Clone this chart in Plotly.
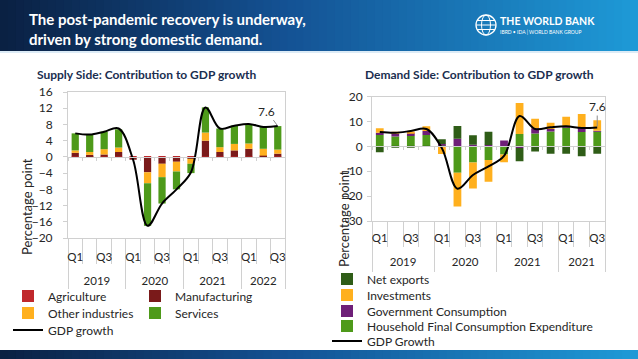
import plotly.graph_objects as go

W, H = 638, 359


def px(x):
    return x / W


def py(y):
    return 1 - y / H


# ---------------- data ----------------
categories = ["2019 Q1", "2019 Q2", "2019 Q3", "2019 Q4",
              "2020 Q1", "2020 Q2", "2020 Q3", "2020 Q4",
              "2021 Q1", "2021 Q2", "2021 Q3", "2021 Q4",
              "2022 Q1", "2022 Q2", "2022 Q3"]
quarter_tick_text = ["Q1", "Q3", "Q1", "Q3", "Q1", "Q3", "Q1", "Q3"]
years_supply = ["2019", "2020", "2021", "2022"]
years_demand = ["2019", "2020", "2021", "2021"]
year_sizes = [4, 4, 4, 3]

# Supply side (percentage points)
agriculture = [0.1, 0.1, 0.1, 0.1, -0.1, -0.1, 0.1, 0.1, 0.1, 0.1, 0.1, 0.1, 0.1, 0.1, 0.1]
manufacturing = [0.9, 0.4, 0.5, 1.1, -0.6, -3.7, -1.7, -1.2, -0.5, 3.9, 1.1, 1.5, 1.9, 0.2, 0.7]
other_industries = [0.6, 0.7, 1.3, 1.1, 0.0, -2.7, -3.3, -2.4, -1.2, 2.0, 1.2, 1.6, 1.3, 1.7, 1.0]
services = [4.2, 4.3, 4.3, 4.5, 0.0, -10.5, -6.5, -4.4, -2.3, 6.2, 4.6, 4.5, 4.8, 5.4, 5.8]
gdp_growth = [5.8, 5.5, 6.2, 7.0, -0.7, -17.0, -11.5, -8.0, -3.8, 12.2, 7.0, 7.7, 8.1, 7.4, 7.6]

# Demand side (percentage points)
household = [4.6, 4.0, 4.2, 4.6, 0.3, -10.6, -6.5, -5.5, -3.2, 5.0, 5.2, 6.0, 7.6, 5.8, 6.0]
government = [0.9, 1.3, 1.3, 1.6, 0.7, 3.1, 0.7, 0.6, 2.4, -0.6, 2.1, 1.0, 0.3, 2.0, 0.3]
investments = [1.8, 0.3, 0.5, 1.9, -3.0, -13.6, -10.4, -8.7, -3.2, 12.5, 3.8, 2.5, 4.0, 5.2, 4.2]
net_exports = [-2.3, -0.2, -0.2, -0.1, 1.9, 5.1, 3.8, 5.3, 0.0, -5.4, -2.0, -2.9, -2.9, -4.0, -2.9]

latest_label = "7.6"

# ---------------- styling ----------------
FONT = "Lato"
TXT = "#262626"
GRID = "#D0D0D0"
C_AGR = "#C0282C"
C_MAN = "#7A1A1A"
C_ORA = "#FFB01E"
C_GRN = "#4E9A1A"
C_NX = "#2F5D17"
C_GOV = "#6E1F78"

n = len(categories)
xr = [-0.5, n - 0.5]
q_pos = [i for i, c in enumerate(categories) if c.endswith("Q1") or c.endswith("Q3")]
boundaries = [i - 0.5 for i in range(n + 1)]
year_bounds = [-0.5]
year_centers = []
acc = 0
for s in year_sizes:
    year_centers.append(acc + (s - 1) / 2)
    acc += s
    year_bounds.append(acc - 0.5)

L_X = [px(68), px(285)]
L_Y = [py(238), py(92)]
R_X = [px(372), px(605)]
R_Y = [py(221), py(96.7)]
L_RANGE = [-20, 16]
R_RANGE = [-30, 20]

fig = go.Figure()


def bar(name, vals, color, xa, ya, legend, rank):
    fig.add_trace(go.Bar(x=categories, y=vals, name=name, marker_color=color,
                         marker_line_width=0, xaxis=xa, yaxis=ya,
                         legend=legend, legendrank=rank))


# supply
bar("Agriculture", agriculture, C_AGR, "x", "y", "legend", 1)
bar("Manufacturing", manufacturing, C_MAN, "x", "y", "legend", 2)
bar("Other industries", other_industries, C_ORA, "x", "y", "legend2", 3)
bar("Services", services, C_GRN, "x", "y", "legend2", 4)
fig.add_trace(go.Scatter(x=categories, y=gdp_growth, name="GDP growth", mode="lines",
                         line=dict(color="black", width=2, shape="spline", smoothing=1),
                         xaxis="x", yaxis="y", legend="legend3"))
# demand
bar("Household Final Consumption Expenditure", household, C_GRN, "x2", "y2", "legend7", 4)
bar("Government Consumption", government, C_GOV, "x2", "y2", "legend6", 3)
bar("Investments", investments, C_ORA, "x2", "y2", "legend5", 2)
bar("Net exports", net_exports, C_NX, "x2", "y2", "legend4", 1)
fig.add_trace(go.Scatter(x=categories, y=gdp_growth, name="GDP Growth", mode="lines",
                         line=dict(color="black", width=2, shape="spline", smoothing=1),
                         xaxis="x2", yaxis="y2", legend="legend8"))

# empty helper traces so that the decoration axes get drawn
for xa, ya in [("x3", "y"), ("x5", "y"), ("x7", "y"), ("x9", "y"),
               ("x4", "y2"), ("x6", "y2"), ("x8", "y2"), ("x10", "y2")]:
    fig.add_trace(go.Scatter(x=[0], y=[None], mode="lines", xaxis=xa, yaxis=ya,
                             showlegend=False, hoverinfo="skip"))

tickfont = dict(family=FONT, size=11.5, color=TXT)

layout = dict(
    width=W, height=H, margin=dict(l=0, r=0, t=0, b=0, pad=0, autoexpand=False),
    paper_bgcolor="white", plot_bgcolor="rgba(0,0,0,0)",
    barmode="relative", bargap=0.5,
    font=dict(family=FONT, color=TXT),
    showlegend=True,
)


def side_axes(main, yname, dom, ydom, yrange, dtick, extra, years, lab_standoff, yr_standoff,
              ystand):
    a, b, c, d = extra
    layout[f"xaxis{'' if main == 1 else main}"] = dict(
        domain=dom, anchor=yname, type="category", range=xr,
        showticklabels=False, ticks="", showline=True, mirror=True,
        linecolor=GRID, linewidth=1, showgrid=False, zeroline=False, fixedrange=True)
    ov = "x" if main == 1 else f"x{main}"
    # category dividers
    layout[f"xaxis{a}"] = dict(
        overlaying=ov, anchor=yname, side="bottom", type="linear", range=xr,
        tickmode="array", tickvals=year_bounds, ticks="outside", ticklen=50,
        tickcolor=GRID, showticklabels=False, showline=False, showgrid=False, zeroline=False,
        minor=dict(tickmode="array", tickvals=boundaries, ticks="outside", ticklen=25,
                   tickcolor=GRID, showgrid=False))
    # quarter labels
    layout[f"xaxis{b}"] = dict(
        overlaying=ov, anchor=yname, side="bottom", type="linear", range=xr,
        tickmode="array", tickvals=q_pos, ticktext=quarter_tick_text, ticks="",
        ticklabelstandoff=lab_standoff, tickfont=tickfont,
        showline=False, showgrid=False, zeroline=False)
    # year labels
    layout[f"xaxis{c}"] = dict(
        overlaying=ov, anchor=yname, side="bottom", type="linear", range=xr,
        tickmode="array", tickvals=year_centers, ticktext=years, ticks="",
        ticklabelstandoff=yr_standoff, tickfont=tickfont,
        showline=False, showgrid=False, zeroline=False)
    # zero line with boundary ticks
    zpos = ydom[0] + (0 - yrange[0]) / (yrange[1] - yrange[0]) * (ydom[1] - ydom[0])
    layout[f"xaxis{d}"] = dict(
        overlaying=ov, anchor="free", position=zpos, side="bottom", type="linear", range=xr,
        tickmode="array", tickvals=boundaries, ticks="outside", ticklen=3, tickcolor=GRID,
        showticklabels=False, showline=True, linecolor=GRID, linewidth=1,
        showgrid=False, zeroline=False)
    layout[f"yaxis{'' if main == 1 else main}"] = dict(
        domain=ydom, anchor=ov, range=yrange, dtick=dtick, tick0=0,
        ticks="outside", ticklen=4, tickcolor=GRID, tickfont=dict(family=FONT, size=12, color=TXT),
        showline=True, mirror=True, linecolor=GRID, showgrid=False, zeroline=False,
        ticklabelstandoff=ystand, fixedrange=True)


side_axes(1, "y", L_X, L_Y, L_RANGE, 4, (3, 5, 7, 9), years_supply, 10, 34, 8)
side_axes(2, "y2", R_X, R_Y, R_RANGE, 10, (4, 6, 8, 10), years_demand, 8, 32, 2)

# legends
lf = dict(family=FONT, size=12, color=TXT)
for key, y in [("legend", 296), ("legend2", 313), ("legend3", 330)]:
    layout[key] = dict(orientation="h", x=px(8), y=py(y), xanchor="left", yanchor="middle",
                       font=lf, bgcolor="rgba(0,0,0,0)", entrywidth=82, itemwidth=30,
                       tracegroupgap=0)
for key, y in [("legend4", 279), ("legend5", 295), ("legend6", 311),
               ("legend7", 326), ("legend8", 341)]:
    layout[key] = dict(orientation="h", x=px(327), y=py(y), xanchor="left", yanchor="middle",
                       font=lf, bgcolor="rgba(0,0,0,0)", itemwidth=30, tracegroupgap=0)

fig.update_layout(**layout)

# ---------------- header / footer bands ----------------
stops = [(0.0, (10, 32, 66)), (0.45, (20, 82, 148)), (1.0, (30, 154, 215))]


def grad(t):
    for (t0, c0), (t1, c1) in zip(stops[:-1], stops[1:]):
        if t <= t1:
            f = (t - t0) / (t1 - t0)
            return "rgb(%d,%d,%d)" % tuple(round(c0[k] + f * (c1[k] - c0[k])) for k in range(3))
    return "rgb(%d,%d,%d)" % stops[-1][1]


shapes = []
N = 80
for i in range(N):
    col = grad((i + 0.5) / N)
    x0, x1 = i / N, (i + 1) / N + 0.002
    shapes.append(dict(type="rect", xref="paper", yref="paper", x0=x0, x1=x1,
                       y0=py(51), y1=1, fillcolor=col, line_width=0, layer="below"))
    shapes.append(dict(type="rect", xref="paper", yref="paper", x0=x0, x1=x1,
                       y0=0, y1=py(350), fillcolor=col, line_width=0, layer="below"))
shapes.append(dict(type="rect", xref="paper", yref="paper", x0=0, x1=1,
                   y0=py(53), y1=py(51), fillcolor="#DCEBF6", line_width=0, layer="below"))
# globe logo
gx, gy, r = 486, 25, 10
shapes.append(dict(type="circle", xref="paper", yref="paper",
                   x0=px(gx - r), x1=px(gx + r), y0=py(gy + r), y1=py(gy - r),
                   line=dict(color="white", width=1.3)))
shapes.append(dict(type="circle", xref="paper", yref="paper",
                   x0=px(gx - 4.5), x1=px(gx + 4.5), y0=py(gy + r), y1=py(gy - r),
                   line=dict(color="white", width=1)))
for dy in (-4.5, 0, 4.5):
    half = (r * r - dy * dy) ** 0.5
    shapes.append(dict(type="line", xref="paper", yref="paper",
                       x0=px(gx - half), x1=px(gx + half), y0=py(gy + dy), y1=py(gy + dy),
                       line=dict(color="white", width=1)))
fig.update_layout(shapes=shapes)

P = dict(xref="paper", yref="paper", showarrow=False)
ann = [
    dict(text="The post-pandemic recovery is underway,<br>driven by strong domestic demand.",
         x=px(27), y=py(8), xanchor="left", yanchor="top", align="left", **P,
         font=dict(family=FONT, size=15, color="white", weight="bold")),
    dict(text="THE WORLD BANK", x=px(498), y=py(21), xanchor="left", yanchor="middle", **P,
         font=dict(family=FONT, size=10.5, color="white", weight="bold")),
    dict(text="IBRD • IDA | WORLD BANK GROUP", x=px(498), y=py(31.5), xanchor="left",
         yanchor="middle", **P, font=dict(family=FONT, size=5, color="white")),
    dict(text="Supply Side: Contribution to GDP growth", x=px(146), y=py(75),
         xanchor="center", yanchor="middle", **P,
         font=dict(family=FONT, size=12, color="#1A2E4F", weight="bold")),
    dict(text="Demand Side: Contribution to GDP growth", x=px(479), y=py(75),
         xanchor="center", yanchor="middle", **P,
         font=dict(family=FONT, size=12, color="#1A2E4F", weight="bold")),
    dict(text="Percentage point", x=px(27), y=py(207), textangle=-90, **P,
         xanchor="center", yanchor="middle", font=dict(family=FONT, size=13, color=TXT)),
    dict(text="Percentage point,", x=px(344), y=py(218), textangle=-90, **P,
         xanchor="center", yanchor="middle", font=dict(family=FONT, size=13, color=TXT)),
    dict(text=latest_label, x=categories[-1], y=gdp_growth[-1], xref="x", yref="y",
         ax=-11, ay=-15, showarrow=True, arrowhead=0, arrowwidth=1, arrowcolor="#8C8C8C",
         font=dict(family=FONT, size=12, color=TXT), standoff=1),
    dict(text=latest_label, x=categories[-1], y=gdp_growth[-1], xref="x2", yref="y2",
         ax=0, ay=-21, showarrow=True, arrowhead=0, arrowwidth=1, arrowcolor="#8C8C8C",
         font=dict(family=FONT, size=12, color=TXT), standoff=1),
]
fig.update_layout(annotations=ann)

fig.write_html("out.html", config={"displayModeBar": False},
               post_script="document.body.style.margin='0';")
